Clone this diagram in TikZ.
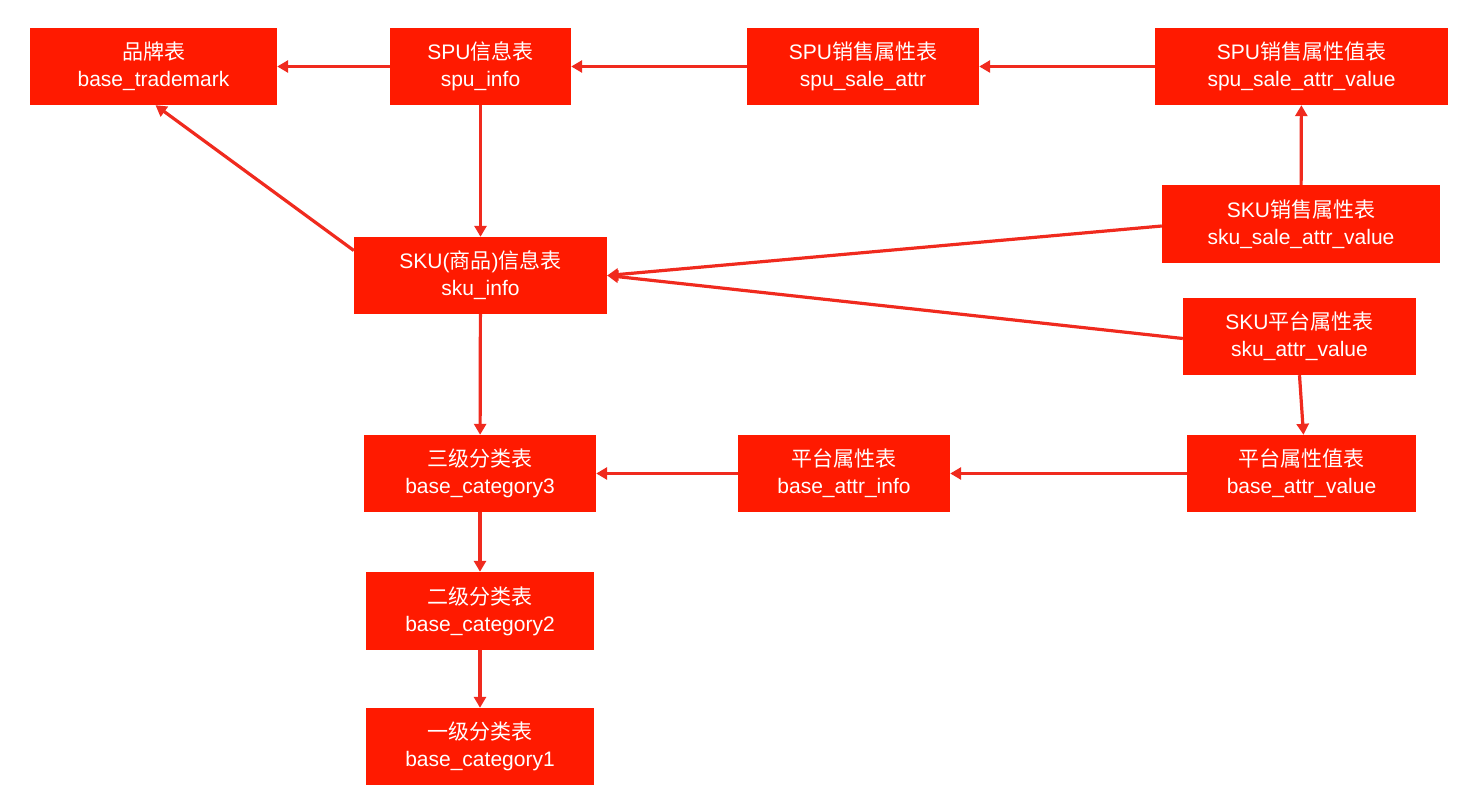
\documentclass[tikz,border=0pt]{standalone}
\usepackage{fontspec}
\setmainfont{Liberation Sans}
\newfontfamily\cjk{Noto Sans CJK SC}
\usetikzlibrary{arrows.meta}
\definecolor{boxred}{HTML}{FF1A00}
\definecolor{linered}{HTML}{F02A1E}
\tikzset{
  tbl/.style={fill=boxred, text=white, align=center, inner sep=0pt, font=\fontsize{21}{27}\selectfont},
  conn/.style={draw=linered, line width=3.2pt, -{Triangle[length=11pt,width=12pt]}}
}
\newcommand{\tb}[6]{\node[tbl, minimum width=#3pt, minimum height=#4pt] (#1) at (#2) {#5\\#6};}
\begin{document}
\begin{tikzpicture}[x=1pt,y=-1pt]
\useasboundingbox[fill=white] (0,0) rectangle (1476,810);
\tb{tm}{153.5,66.5}{247}{77}{{\cjk 品牌表}}{base\_trademark}
\tb{spu}{480.5,66.5}{181}{77}{SPU{\cjk 信息表}}{spu\_info}
\tb{ssa}{863,66.5}{232}{77}{SPU{\cjk 销售属性表}}{spu\_sale\_attr}
\tb{ssav}{1301.5,66.5}{293}{77}{SPU{\cjk 销售属性值表}}{spu\_sale\_attr\_value}
\tb{kssav}{1301,224}{278}{78}{SKU{\cjk 销售属性表}}{sku\_sale\_attr\_value}
\tb{sku}{480.5,275.5}{253}{77}{SKU({\cjk 商品}){\cjk 信息表}}{sku\_info}
\tb{kav}{1299.5,336.5}{233}{77}{SKU{\cjk 平台属性表}}{sku\_attr\_value}
\tb{c3}{480,473.5}{232}{77}{{\cjk 三级分类表}}{base\_category3}
\tb{bai}{844,473.5}{212}{77}{{\cjk 平台属性表}}{base\_attr\_info}
\tb{bav}{1301.5,473.5}{229}{77}{{\cjk 平台属性值表}}{base\_attr\_value}
\tb{c2}{480,611}{228}{78}{{\cjk 二级分类表}}{base\_category2}
\tb{c1}{480,746.5}{228}{77}{{\cjk 一级分类表}}{base\_category1}
\draw[conn] (spu) -- (tm);
\draw[conn] (ssa) -- (spu);
\draw[conn] (ssav) -- (ssa);
\draw[conn] (spu) -- (sku);
\draw[conn] (sku.west) ++(0,-25) -- ([xshift=2pt]tm.south);
\draw[conn] (kssav.west) ++(0,2) -- (sku.east);
\draw[conn] (kav.west) ++(0,2) -- (sku.east);
\draw[conn] (kssav) -- (ssav);
\draw[conn] (kav.south) -- ([xshift=2pt]bav.north);
\draw[conn] (sku) -- (c3);
\draw[conn] (c3) -- (c2);
\draw[conn] (c2) -- (c1);
\draw[conn] (bai) -- (c3);
\draw[conn] (bav) -- (bai);
\end{tikzpicture}
\end{document}
